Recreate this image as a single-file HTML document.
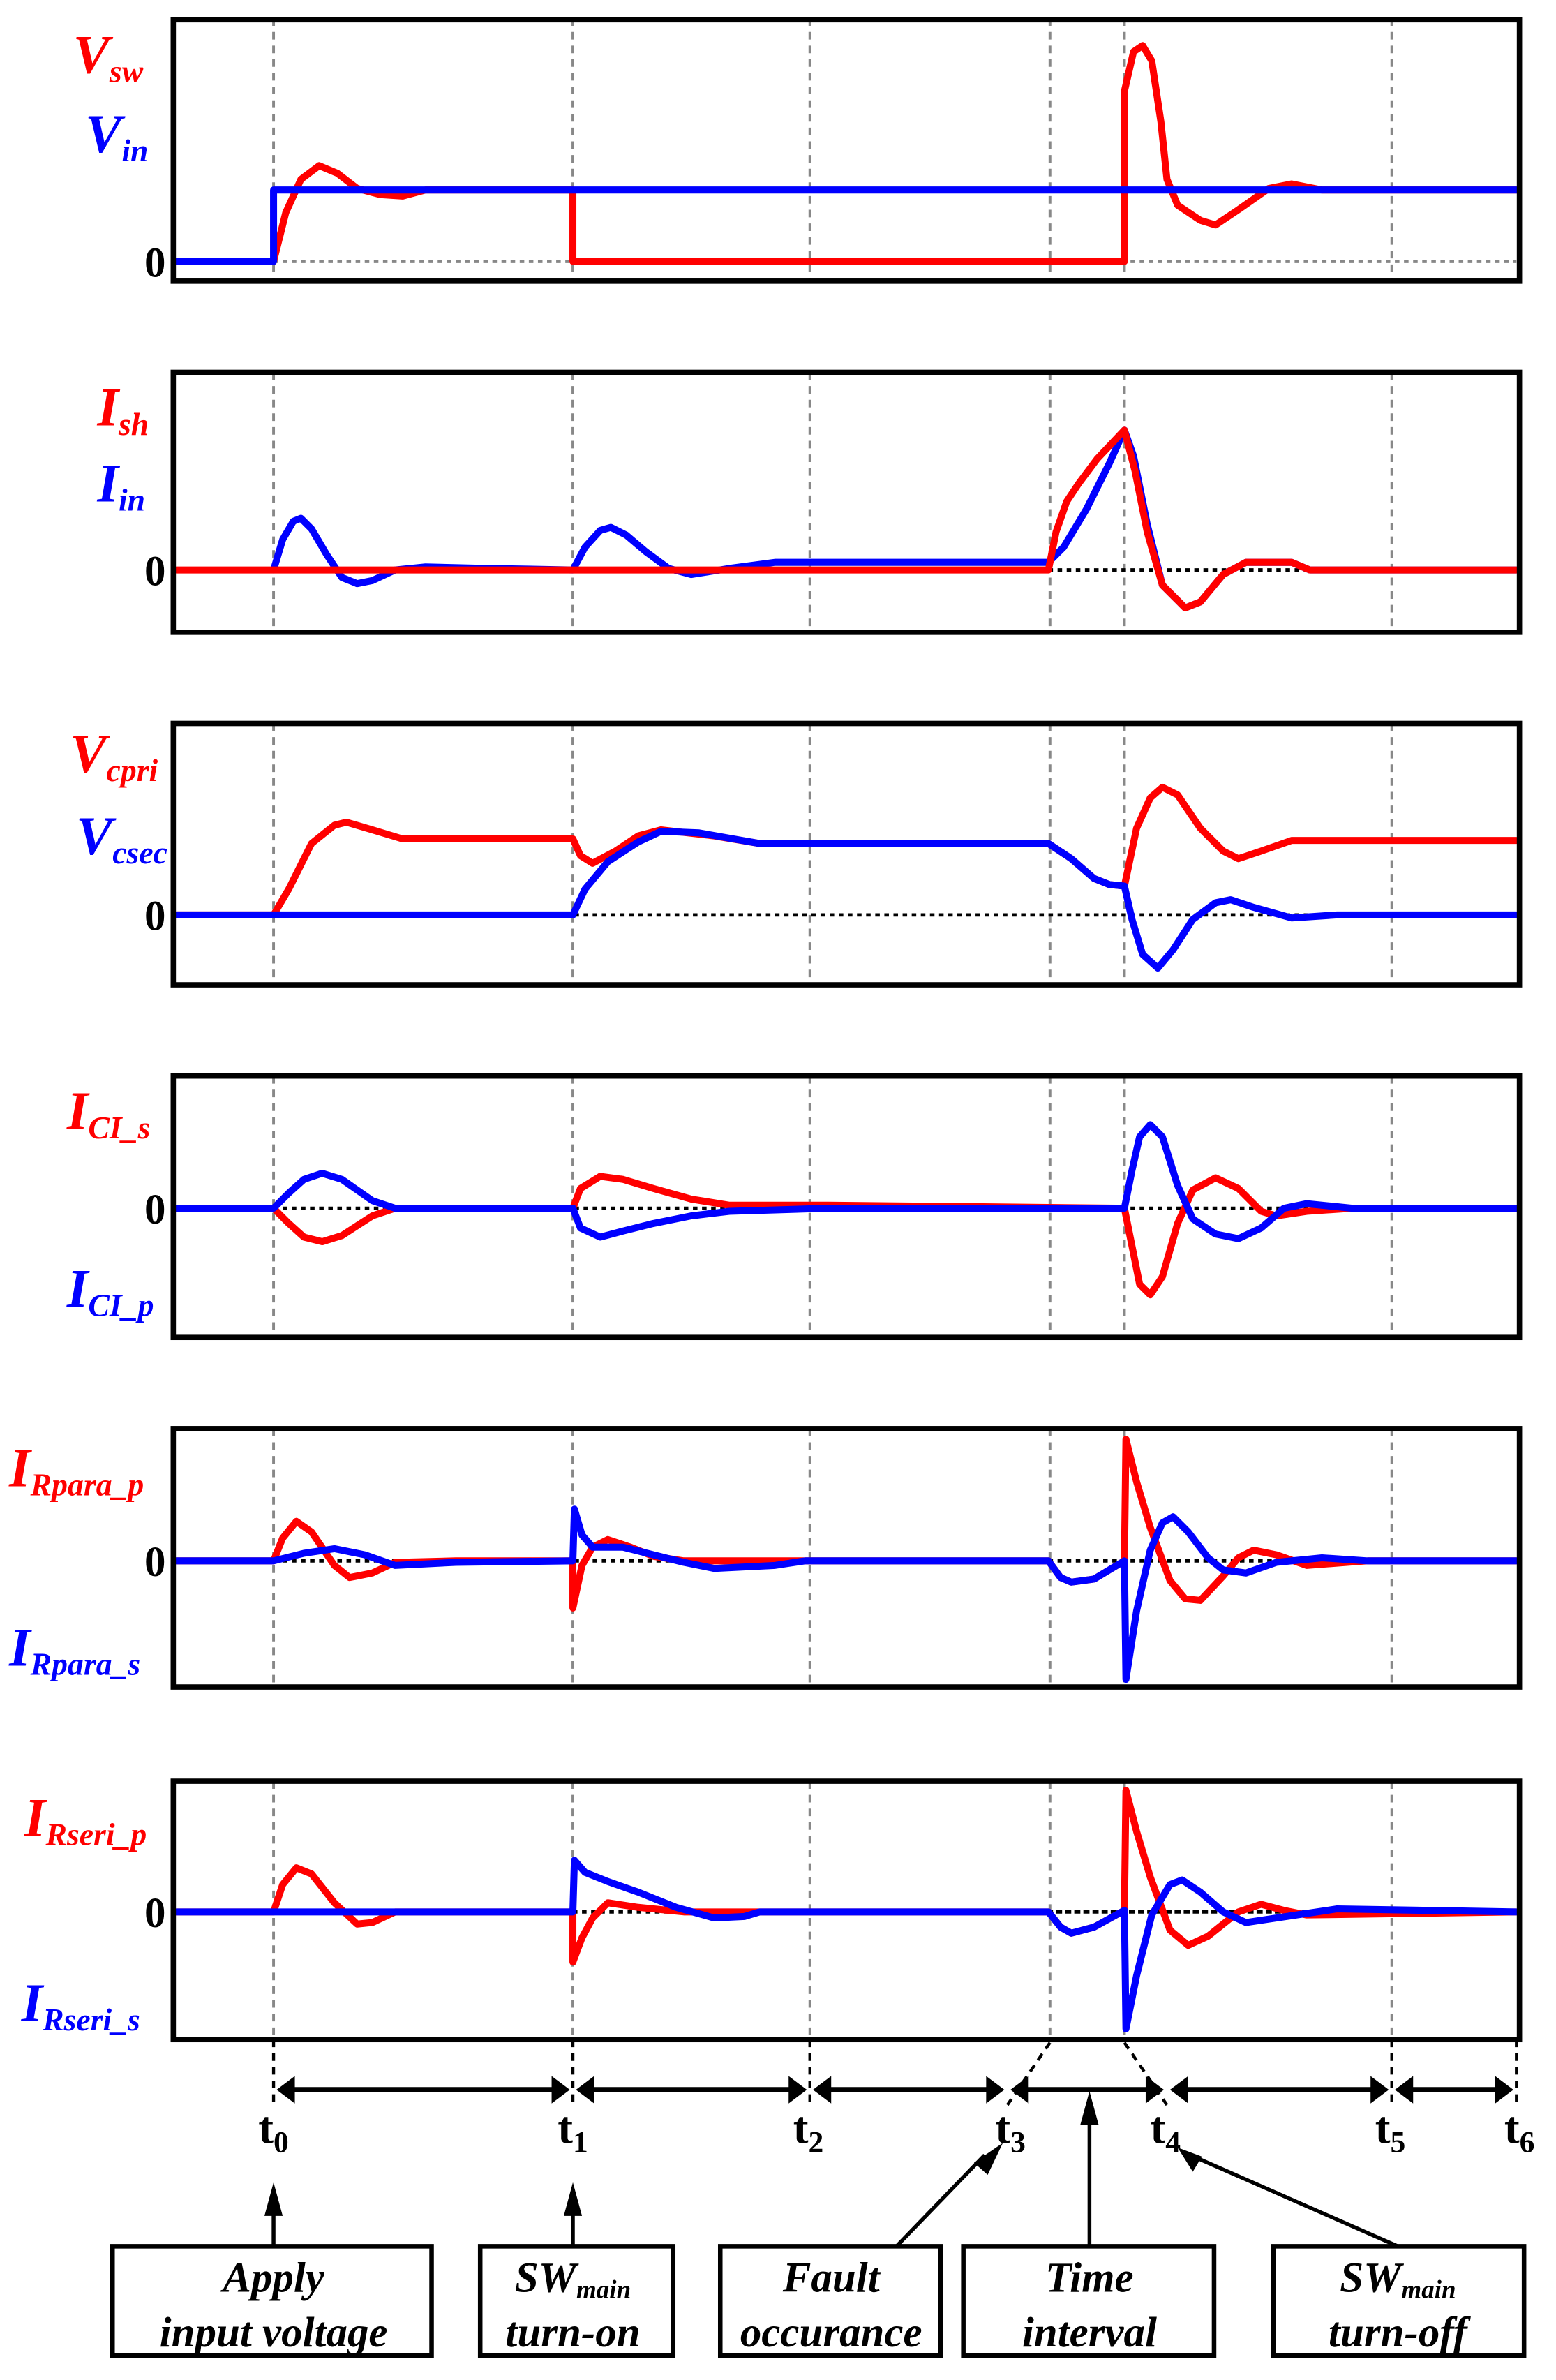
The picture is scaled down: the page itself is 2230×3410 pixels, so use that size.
<!DOCTYPE html>
<html><head><meta charset="utf-8"><style>
html,body{margin:0;padding:0;background:#fff;}
svg{display:block;}
text{font-family:"Liberation Serif",serif;font-weight:bold;font-style:italic;}
</style></head><body>
<svg width="2230" height="3410" viewBox="0 0 1024 1566" xmlns="http://www.w3.org/2000/svg">
<g fill="none" stroke="#888" stroke-width="1.8" stroke-dasharray="5,4">
<path d="M180 12V185M377 12V185M533 12V185M691 12V185M740 12V185M916 12V185"/>
<path d="M180 245V416M377 245V416M533 245V416M691 245V416M740 245V416M916 245V416"/>
<path d="M180 476V648M377 476V648M533 476V648M691 476V648M740 476V648M916 476V648"/>
<path d="M180 708V880M377 708V880M533 708V880M691 708V880M740 708V880M916 708V880"/>
<path d="M180 940V1110M377 940V1110M533 940V1110M691 940V1110M740 940V1110M916 940V1110"/>
<path d="M180 1172V1342M377 1172V1342M533 1172V1342M691 1172V1342M740 1172V1342M916 1172V1342"/>
</g>
<g fill="none" stroke-width="2.2" stroke-dasharray="3,3">
<path d="M180 172H998" stroke="#888"/>
<path d="M690 375H860M180 795H998M180 1027H900M377 1258H900M690 1258H900M180 602H998" stroke="#000"/>
</g>
<g fill="none" stroke-width="4.6" stroke-linejoin="round" stroke-linecap="round">
<!-- P1 -->
<polyline stroke="#f00" points="180,172 188,140 198,118 210,109 222,114 235,124 250,128 265,129 280,125 377,125 377,172 740,172 740,60 746,34 752,30 758,40 764,80 768,118 775,135 790,145 800,148 815,138 835,124 850,121 870,125 998,125"/>
<polyline stroke="#00f" points="116,172 180,172 180,125 998,125"/>
<!-- P2 -->
<polyline stroke="#00f" points="180,375 186,355 193,343 198,341 205,348 215,365 225,380 235,384 245,382 260,375 280,373 320,374 377,375 385,360 395,349 402,347 412,352 425,363 440,374 455,378 480,374 510,370 690,370 700,360 715,335 730,305 740,283 746,300 755,345 765,385 780,400 790,396 805,378 820,370 850,370 862,375 998,375"/>
<polyline stroke="#f00" points="116,375 690,375 695,350 702,330 710,318 722,302 740,283 747,310 755,350 765,385 780,400 790,396 805,378 820,370 850,370 862,375 998,375"/>
<!-- P3 -->
<polyline stroke="#f00" points="116,602 180,602 190,585 205,555 220,543 228,541 245,546 265,552 290,552 377,552 382,563 390,568 405,560 420,550 435,546 470,550 500,555 690,555 705,565 720,578 730,582 740,583 748,545 757,525 765,518 775,523 790,545 805,560 815,565 830,560 850,553 998,553"/>
<polyline stroke="#00f" points="116,602 377,602 385,585 400,567 420,554 435,547 460,548 500,555 690,555 705,565 720,578 730,582 740,583 745,605 752,628 762,637 772,625 785,605 800,594 810,592 825,597 850,604 880,602 998,602"/>
<!-- P4 -->
<polyline stroke="#f00" points="116,795 180,795 190,805 200,814 212,817 225,813 245,800 260,795 377,795 382,782 395,774 410,776 430,782 455,789 480,793 545,793 740,795 745,820 750,845 757,852 765,840 775,805 785,783 800,775 815,782 830,797 840,800 860,797 890,795 998,795"/>
<polyline stroke="#00f" points="116,795 180,795 190,785 200,776 212,772 225,776 245,790 260,795 377,795 382,808 395,814 410,810 430,805 455,800 480,797 545,795 740,795 745,770 750,748 757,740 765,748 775,780 785,802 800,812 815,815 830,808 845,795 860,792 890,795 998,795"/>
<!-- P5 -->
<polyline stroke="#f00" points="116,1027 180,1027 186,1012 195,1001 205,1008 220,1030 230,1038 245,1035 260,1028 300,1027 377,1027 377,1058 383,1030 390,1018 400,1013 415,1018 430,1024 450,1027 690,1027 698,1038 705,1041 720,1039 740,1027 741,947 748,975 757,1005 770,1040 780,1052 790,1053 805,1037 815,1025 825,1020 840,1023 860,1030 900,1027 998,1027"/>
<polyline stroke="#00f" points="116,1027 180,1027 200,1022 220,1019 240,1023 260,1030 300,1028 377,1027 378,993 383,1010 390,1018 410,1018 430,1023 450,1028 470,1032 510,1030 530,1027 690,1027 698,1038 705,1041 720,1039 740,1027 741,1105 748,1060 757,1020 765,1002 772,998 782,1008 795,1025 805,1033 820,1035 840,1028 870,1025 900,1027 998,1027"/>
<!-- P6 -->
<polyline stroke="#f00" points="116,1258 180,1258 186,1240 195,1229 205,1233 220,1252 235,1266 245,1265 260,1258 310,1258 377,1258 377,1291 383,1275 390,1262 400,1252 420,1255 450,1258 690,1258 698,1268 705,1272 720,1268 740,1257 741,1178 748,1205 757,1235 770,1270 782,1280 795,1274 815,1258 830,1253 845,1257 860,1260 998,1258"/>
<polyline stroke="#00f" points="116,1258 377,1258 378,1224 385,1232 400,1238 420,1245 445,1255 470,1262 490,1261 500,1258 690,1258 698,1268 705,1272 720,1268 740,1257 741,1335 748,1300 758,1260 770,1240 778,1237 790,1245 805,1258 820,1265 840,1262 860,1259 880,1256 998,1258"/>
</g>
<g fill="none" stroke="#000" stroke-width="3.5">
<rect x="114" y="13" width="886" height="172"/>
<rect x="114" y="245" width="886" height="171"/>
<rect x="114" y="476" width="886" height="172"/>
<rect x="114" y="708" width="886" height="172"/>
<rect x="114" y="940" width="886" height="170"/>
<rect x="114" y="1172" width="886" height="170"/>
</g>
<g font-size="36">
<text x="48" y="48" fill="#f00">V<tspan font-size="21" dy="6">sw</tspan></text>
<text x="56" y="100" fill="#00f">V<tspan font-size="21" dy="6">in</tspan></text>
<text x="64" y="280" fill="#f00">I<tspan font-size="21" dy="6">sh</tspan></text>
<text x="64" y="330" fill="#00f">I<tspan font-size="21" dy="6">in</tspan></text>
<text x="46" y="508" fill="#f00">V<tspan font-size="21" dy="6">cpri</tspan></text>
<text x="50" y="562" fill="#00f">V<tspan font-size="21" dy="6">csec</tspan></text>
<text x="44" y="743" fill="#f00">I<tspan font-size="21" dy="6">CI_s</tspan></text>
<text x="44" y="860" fill="#00f">I<tspan font-size="21" dy="6">CI_p</tspan></text>
<text x="6" y="978" fill="#f00">I<tspan font-size="21" dy="6">Rpara_p</tspan></text>
<text x="6" y="1096" fill="#00f">I<tspan font-size="21" dy="6">Rpara_s</tspan></text>
<text x="16" y="1208" fill="#f00">I<tspan font-size="21" dy="6">Rseri_p</tspan></text>
<text x="14" y="1330" fill="#00f">I<tspan font-size="21" dy="6">Rseri_s</tspan></text>
</g>
<g font-size="28">
<text x="95" y="182" style="font-style:normal">0</text>
<text x="95" y="385" style="font-style:normal">0</text>
<text x="95" y="612" style="font-style:normal">0</text>
<text x="95" y="805" style="font-style:normal">0</text>
<text x="95" y="1037" style="font-style:normal">0</text>
<text x="95" y="1268" style="font-style:normal">0</text>
</g>
<g fill="none" stroke="#000" stroke-width="2" stroke-dasharray="5,4">
<path d="M180 1342V1385M377 1342V1385M533 1342V1385M916 1342V1385M998 1342V1385M691 1344L663 1385M740 1344L768 1385"/>
</g>
<g stroke="#000" stroke-width="3.5">
<path d="M188 1375H369M385 1375H525M541 1375H655M671 1375H760M776 1375H908M924 1375H990"/>
</g>
<g fill="#000">
<path d="M182 1375l12-9v18zM375 1375l-12-9v18zM379 1375l12-9v18zM531 1375l-12-9v18zM535 1375l12-9v18zM661 1375l-12-9v18zM665 1375l12-9v18zM766 1375l-12-9v18zM770 1375l12-9v18zM914 1375l-12-9v18zM918 1375l12-9v18zM996 1375l-12-9v18z"/>
</g>
<g font-size="30">
<text x="170" y="1410" style="font-style:normal">t<tspan font-size="20" dy="6">0</tspan></text>
<text x="367" y="1410" style="font-style:normal">t<tspan font-size="20" dy="6">1</tspan></text>
<text x="522" y="1410" style="font-style:normal">t<tspan font-size="20" dy="6">2</tspan></text>
<text x="655" y="1410" style="font-style:normal">t<tspan font-size="20" dy="6">3</tspan></text>
<text x="757" y="1410" style="font-style:normal">t<tspan font-size="20" dy="6">4</tspan></text>
<text x="905" y="1410" style="font-style:normal">t<tspan font-size="20" dy="6">5</tspan></text>
<text x="990" y="1410" style="font-style:normal">t<tspan font-size="20" dy="6">6</tspan></text>
</g>
<g stroke="#000" stroke-width="2.5" fill="none">
<path d="M180 1478V1455M377 1478V1455M717 1478V1395M590 1478L648 1418M920 1478L788 1420"/>
</g>
<g fill="#000">
<path d="M180 1436l-6 22h12zM377 1436l-6 22h12zM717 1376l-6 22h12z"/>
<path d="M660 1410l-19 13 9 8z"/>
<path d="M775 1413l10 16 6-10z"/>
</g>
<g fill="#fff" stroke="#000" stroke-width="3">
<rect x="74" y="1478" width="210" height="72"/>
<rect x="316" y="1478" width="127" height="72"/>
<rect x="474" y="1478" width="145" height="72"/>
<rect x="634" y="1478" width="165" height="72"/>
<rect x="838" y="1478" width="165" height="72"/>
</g>
<g font-size="28" text-anchor="middle">
<text x="180" y="1508">Apply</text>
<text x="180" y="1544">input voltage</text>
<text x="377" y="1508">SW<tspan font-size="17" dy="4">main</tspan></text>
<text x="377" y="1544">turn-on</text>
<text x="547" y="1508">Fault</text>
<text x="547" y="1544">occurance</text>
<text x="717" y="1508">Time</text>
<text x="717" y="1544">interval</text>
<text x="920" y="1508">SW<tspan font-size="17" dy="4">main</tspan></text>
<text x="920" y="1544">turn-off</text>
</g>
</svg>
</body></html>
